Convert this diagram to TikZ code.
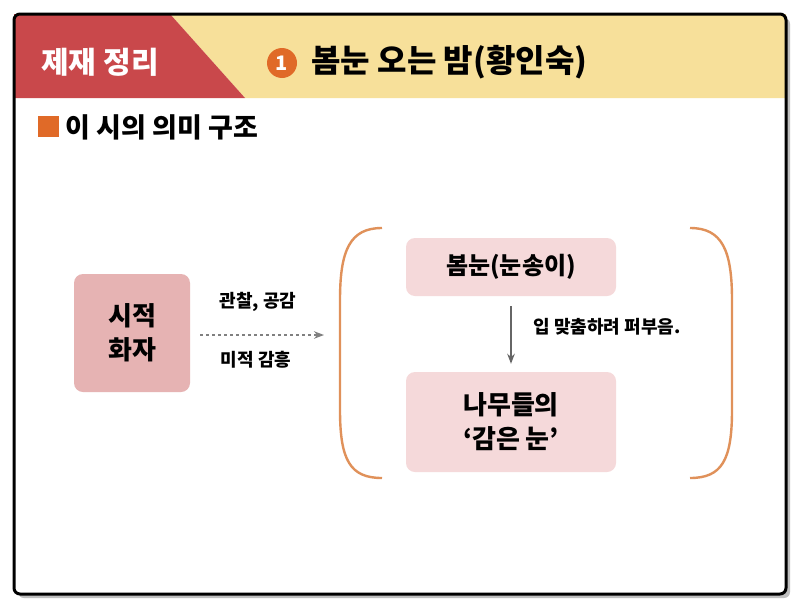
\documentclass[tikz,border=0pt]{standalone}
\usepackage{fontspec}
\setmainfont{Noto Sans CJK KR}
\usetikzlibrary{arrows.meta}
\definecolor{hred}{HTML}{C9484B}
\definecolor{hyel}{HTML}{F7E09A}
\definecolor{orng}{HTML}{E0915A}
\definecolor{sq}{HTML}{E06A28}
\definecolor{pk1}{HTML}{E6B3B3}
\definecolor{pk2}{HTML}{F5D9DA}
\tikzset{
 pbox/.style={rounded corners=9pt,inner sep=0pt,align=center,font=\bfseries\fontsize{26}{34}\selectfont},
 lbl/.style={font=\bfseries\fontsize{18}{20}\selectfont},
 brk/.style={draw=orng,line width=2.4pt}
}
\begin{document}
\begin{tikzpicture}[x=1pt,y=-1pt]
\useasboundingbox (0,0) rectangle (800,608);
\fill[white] (0,0) rectangle (800,608);
\fill[gray!50,rounded corners=6pt] (18,18) rectangle (790,598);
\fill[white,rounded corners=6pt] (14,14) rectangle (786,594);
\fill[hyel] (170,14) -- (786,14) -- (786,98) -- (245,98) -- cycle;
\fill[hred] (14,14) -- (170,14) -- (245,98) -- (14,98) -- cycle;
\draw[black,line width=3pt,rounded corners=6pt] (14,14) rectangle (786,594);
\node[text=white,font=\bfseries\fontsize{30}{34}\selectfont] (t1) at (100,62) {제재 정리};
\node[circle,fill=sq,text=white,inner sep=0pt,minimum size=30pt,font=\bfseries\fontsize{20}{24}\selectfont] (c1) at (282,63) {1};
\node[anchor=west,font=\bfseries\fontsize{32}{36}\selectfont] (t2) at (308,62) {봄눈 오는 밤(황인숙)};
\fill[sq] (38,116) rectangle (59,137);
\node[anchor=west,font=\bfseries\fontsize{27}{30}\selectfont] (t3) at (62,127) {이 시의 의미 구조};
\node[pbox,fill=pk1,minimum width=116pt,minimum height=118pt] (a) at (132,333) {시적\\화자};
\coordinate (as) at (200,335);
\coordinate (ae) at (324,335);
\draw[gray,dashed,line width=2.2pt,-{Stealth[length=10pt]}] (as) -- (ae);
\node[lbl] (l1) at (258,302) {관찰, 공감};
\node[lbl] (l2) at (256,360) {미적 감흥};
\draw[brk] (382,228) .. controls (350,228) and (340,250) .. (340,300) -- (340,410) .. controls (340,460) and (350,478) .. (382,478);
\draw[brk] (690,228) .. controls (722,228) and (732,250) .. (732,300) -- (732,410) .. controls (732,460) and (722,478) .. (690,478);
\node[pbox,fill=pk2,minimum width=210pt,minimum height=58pt,font=\bfseries\fontsize{24}{28}\selectfont] (b) at (511,267) {봄눈(눈송이)};
\node[pbox,fill=pk2,minimum width=210pt,minimum height=100pt] (c) at (511,422) {나무들의\\‘감은 눈’};
\draw[gray!80!black,line width=2.2pt,-{Stealth[length=10pt]}] ([yshift=-10pt]b.south) -- ([yshift=8pt]c.north);
\node[lbl,anchor=west] (l3) at (530,327) {입 맞춤하려 퍼부음.};
\end{tikzpicture}
\end{document}
